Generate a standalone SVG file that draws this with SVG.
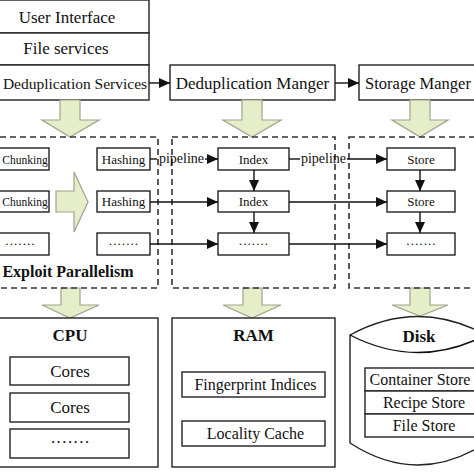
<svg xmlns="http://www.w3.org/2000/svg" width="474" height="474" viewBox="0 0 474 474" font-family="Liberation Serif, DejaVu Serif, serif">
<style>
  .box{fill:#fff;stroke:#222;stroke-width:1.4}
  .dash{fill:none;stroke:#333;stroke-width:1.6;stroke-dasharray:6,4}
  .green{fill:#e6edc9;stroke:#9da48c;stroke-width:1.2}
  .t{fill:#111;text-anchor:middle}
  .b{font-weight:bold}
  .ln{fill:none;stroke:#111;stroke-width:1.4}
</style>
<defs>
  <marker id="ah" markerUnits="userSpaceOnUse" markerWidth="12" markerHeight="10" refX="11" refY="5" orient="auto">
    <path d="M0,0 L11,5 L0,10 Z" fill="#111"/>
  </marker>
</defs>
<rect width="474" height="474" fill="#fff"/>

<g id="top-stack">
  <rect class="box" x="-15" y="0" width="164" height="33"/>
  <rect class="box" x="-15" y="33" width="164" height="32"/>
  <rect class="box" x="-15" y="65" width="164" height="35"/>
  <text class="t" x="67" y="23" font-size="17">User Interface</text>
  <text class="t" x="66" y="54" font-size="17">File services</text>
  <text class="t" x="75" y="88.5" font-size="15.5">Deduplication Services</text>
</g>
<g id="dedup-manager">
  <rect class="box" x="170" y="65" width="165" height="35"/>
  <text class="t" x="252.5" y="89" font-size="17">Deduplication Manger</text>
</g>
<g id="storage-manager">
  <rect class="box" x="359" y="65" width="131" height="35"/>
  <text class="t" x="418" y="89" font-size="16.5">Storage Manger</text>
</g>

<g id="green-arrows">
  <path class="green" d="M60,100 H80 V120 H99 L70,137 L42,120 H60 Z"/>
  <path class="green" d="M242,100 H262 V120 H281 L252,137 L223,120 H242 Z"/>
  <path class="green" d="M410,100 H430 V120 H448 L420,137 L392,120 H410 Z"/>
  <path class="green" d="M61,288 H80 V305 H99 L70,318 L42,305 H61 Z"/>
  <path class="green" d="M243,288 H262 V305 H281 L252,318 L223,305 H243 Z"/>
  <path class="green" d="M410,288 H430 V305 H448 L420,316 L392,305 H410 Z"/>
  <path class="green" d="M56,191 H74 V172 L88,202 L74,232 V212 H56 Z"/>
</g>

<g id="parallel-box">
  <rect class="dash" x="-10" y="137" width="168" height="151"/>
  <text class="t b" x="68" y="277" font-size="16">Exploit Parallelism</text>
</g>
<g id="index-box">
  <rect class="dash" x="172" y="137" width="163" height="151"/>
</g>
<g id="store-box">
  <rect class="dash" x="349" y="137" width="140" height="151"/>
</g>

<g id="chunking">
  <rect class="box" x="-15" y="148" width="64" height="22"/>
  <rect class="box" x="-15" y="191" width="64" height="21"/>
  <rect class="box" x="-15" y="233" width="64" height="22"/>
  <text class="t" x="25" y="163.5" font-size="11.5">Chunking</text>
  <text class="t" x="25" y="205.5" font-size="11.5">Chunking</text>
  <text class="t" x="20" y="248" font-size="13">·······</text>
</g>
<g id="hashing">
  <rect class="box" x="97" y="148" width="53" height="22"/>
  <rect class="box" x="97" y="191" width="53" height="21"/>
  <rect class="box" x="97" y="233" width="53" height="22"/>
  <text class="t" x="123.5" y="164" font-size="13">Hashing</text>
  <text class="t" x="123.5" y="206" font-size="13">Hashing</text>
  <text class="t" x="123.5" y="248" font-size="13">·······</text>
</g>
<g id="index">
  <rect class="box" x="218" y="148" width="71" height="22"/>
  <rect class="box" x="218" y="191" width="71" height="21"/>
  <rect class="box" x="218" y="233" width="71" height="22"/>
  <text class="t" x="253.5" y="164" font-size="13">Index</text>
  <text class="t" x="253.5" y="206" font-size="13">Index</text>
  <text class="t" x="253.5" y="248" font-size="13">·······</text>
</g>
<g id="store">
  <rect class="box" x="387" y="148" width="68" height="22"/>
  <rect class="box" x="387" y="191" width="68" height="21"/>
  <rect class="box" x="387" y="233" width="68" height="22"/>
  <text class="t" x="421" y="164" font-size="13">Store</text>
  <text class="t" x="421" y="206" font-size="13">Store</text>
  <text class="t" x="421" y="248" font-size="13">·······</text>
</g>

<g id="connectors">
  <line class="ln" x1="149" y1="83" x2="170" y2="83" marker-end="url(#ah)"/>
  <line class="ln" x1="335" y1="83" x2="359" y2="83" marker-end="url(#ah)"/>
  <line class="ln" x1="150" y1="159" x2="157" y2="159"/>
  <line class="ln" x1="205" y1="159" x2="218" y2="159" marker-end="url(#ah)"/>
  <text class="t" x="181.5" y="163" font-size="14">pipeline</text>
  <line class="ln" x1="289" y1="159" x2="300" y2="159"/>
  <line class="ln" x1="347" y1="159" x2="387" y2="159" marker-end="url(#ah)"/>
  <text class="t" x="323.5" y="163" font-size="14">pipeline</text>
  <line class="ln" x1="150" y1="202" x2="218" y2="202" marker-end="url(#ah)"/>
  <line class="ln" x1="150" y1="244" x2="218" y2="244" marker-end="url(#ah)"/>
  <line class="ln" x1="289" y1="202" x2="387" y2="202" marker-end="url(#ah)"/>
  <line class="ln" x1="289" y1="244" x2="387" y2="244" marker-end="url(#ah)"/>
  <line class="ln" x1="254" y1="170" x2="254" y2="191" marker-end="url(#ah)"/>
  <line class="ln" x1="254" y1="212" x2="254" y2="233" marker-end="url(#ah)"/>
  <line class="ln" x1="420" y1="170" x2="420" y2="191" marker-end="url(#ah)"/>
  <line class="ln" x1="420" y1="212" x2="420" y2="233" marker-end="url(#ah)"/>
</g>

<g id="cpu">
  <rect class="box" x="-10" y="318" width="168" height="149"/>
  <text class="t b" x="70" y="341" font-size="17">CPU</text>
  <rect class="box" x="10" y="357" width="119" height="28"/>
  <rect class="box" x="10" y="393" width="119" height="29"/>
  <rect class="box" x="10" y="429" width="119" height="29"/>
  <text class="t" x="70" y="377" font-size="17">Cores</text>
  <text class="t" x="70" y="413" font-size="17">Cores</text>
  <text class="t" x="70" y="448" font-size="17">·······</text>
</g>
<g id="ram">
  <rect class="box" x="172" y="318" width="163" height="149"/>
  <text class="t b" x="253.5" y="341" font-size="17">RAM</text>
  <rect class="box" x="182" y="372" width="143" height="25"/>
  <rect class="box" x="182" y="421" width="143" height="25"/>
  <text class="t" x="255.5" y="390" font-size="16">Fingerprint Indices</text>
  <text class="t" x="255.5" y="439" font-size="16">Locality Cache</text>
</g>
<g id="disk">
  <path class="box" d="M350,335 L350,443 Q418,487 486,443 L486,335 Q418,298 350,335 Z"/>
  <path class="ln" d="M350,335 Q418,370 486,335"/>
  <text class="t b" x="419" y="342" font-size="17">Disk</text>
  <rect class="box" x="365" y="368" width="118" height="23"/>
  <rect class="box" x="365" y="391" width="118" height="23"/>
  <rect class="box" x="365" y="414" width="118" height="23"/>
  <text class="t" x="420" y="385" font-size="16">Container Store</text>
  <text class="t" x="424" y="408" font-size="16">Recipe Store</text>
  <text class="t" x="424" y="431" font-size="16">File Store</text>
</g>
</svg>
